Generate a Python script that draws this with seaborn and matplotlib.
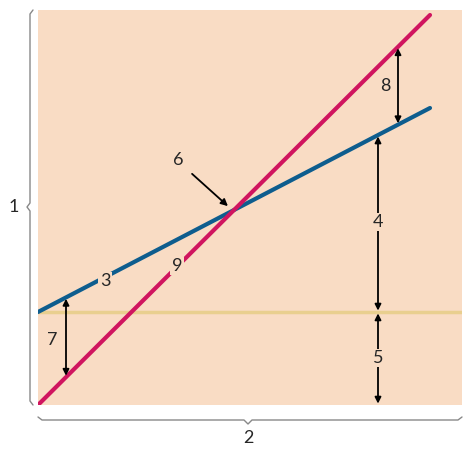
import matplotlib
matplotlib.use("Agg")
import matplotlib.pyplot as plt
import seaborn as sns
import numpy as np

sns.set_theme(style="white")
plt.rcParams['font.family'] = ['Lato', 'DejaVu Sans']

# data (pixel-like coordinates, y downwards)
line_x = [38, 430]
supply_y = [405, 15]      # magenta
demand_y = [312, 108]     # blue
flat_x = [38, 462]
flat_y = [312, 312]

def on(yv, x):
    return yv[0] + (yv[1]-yv[0])*(x-line_x[0])/(line_x[1]-line_x[0])

fig = plt.figure(figsize=(4.67, 4.49), dpi=100)
ax = fig.add_axes([38/467, (449-405)/449, 424/467, 395/449])
ax.set_xlim(38, 462); ax.set_ylim(405, 10)
ax.set_facecolor('#f9dcc4')
for s in ax.spines.values(): s.set_visible(False)
ax.set_xticks([]); ax.set_yticks([])

sns.lineplot(x=flat_x, y=flat_y, color='#e9cf8f', lw=2.5, ax=ax)
sns.lineplot(x=line_x, y=demand_y, color='#0e5d8e', lw=3, ax=ax)
sns.lineplot(x=line_x, y=supply_y, color='#d0155f', lw=3, ax=ax)

def darrow(x, y1, y2):
    ax.annotate('', xy=(x, y1), xytext=(x, y2),
                arrowprops=dict(arrowstyle='<|-|>', color='black', lw=1.3,
                                mutation_scale=9, shrinkA=1, shrinkB=1))

darrow(398, on(supply_y, 398), on(demand_y, 398))
darrow(378, on(demand_y, 378), 312)
darrow(378, 312, 405)
darrow(66, on(demand_y, 66), on(supply_y, 66))
ax.annotate('', xy=(230, 208), xytext=(190, 172),
            arrowprops=dict(arrowstyle='-|>', color='black', lw=1.3, mutation_scale=10))

bg = dict(facecolor='#f9dcc4', edgecolor='none', pad=1)
for t, x, y in [('8', 385, 86), ('4', 378, 222), ('5', 378, 358), ('7', 52, 340),
                ('6', 178, 160), ('3', 105, 281), ('9', 177, 266)]:
    ax.text(x, y, t, fontsize=13, ha='center', va='center', bbox=bg, zorder=5)

# braces in figure pixel coords
def fx(px): return px/467
def fy(py): return 1 - py/449
bx = [33, 30, 30, 27, 30, 30, 33]
by = [10, 14, 203, 207, 211, 401, 405]
fig.add_artist(plt.Line2D([fx(v) for v in bx], [fy(v) for v in by], color='#888', lw=1))
cx = [38, 42, 244, 248, 252, 458, 462]
cy = [417, 420, 420, 424, 420, 420, 417]
fig.add_artist(plt.Line2D([fx(v) for v in cx], [fy(v) for v in cy], color='#888', lw=1))
fig.text(fx(14), fy(207), '1', fontsize=13, ha='center', va='center')
fig.text(fx(248), fy(438), '2', fontsize=13, ha='center', va='center')

fig.savefig('out.png', dpi=100)
